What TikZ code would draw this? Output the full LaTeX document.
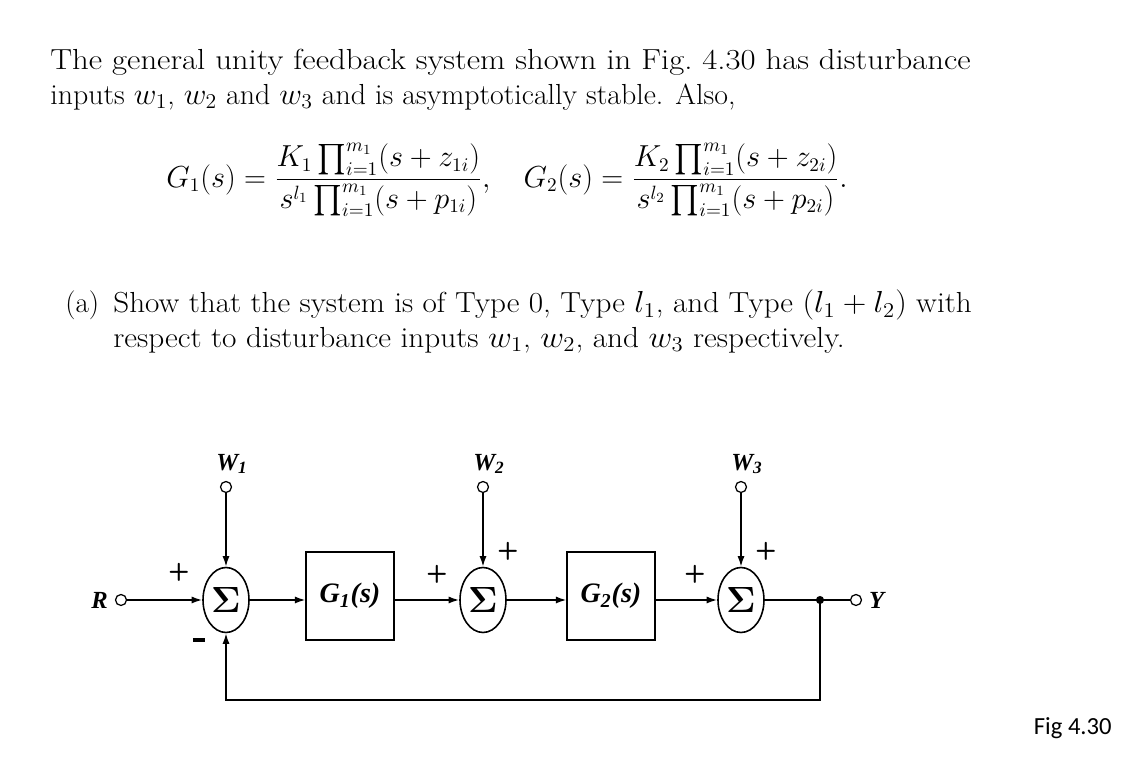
\documentclass[tikz,border=0pt]{standalone}
\usepackage{amsmath}
\usepackage{fontspec}
\newfontfamily\lser{Liberation Serif}
\newfontfamily\carl{Carlito}
\usetikzlibrary{shapes.geometric,arrows.meta}
\begin{document}
\begin{tikzpicture}[x=0.02cm,y=-0.02cm,
  sum/.style={ellipse,draw,line width=0.9pt,minimum width=0.92cm,minimum height=1.3cm,inner sep=0pt,font=\lser\bfseries\fontsize{20}{20}\selectfont},
  blk/.style={draw,line width=0.9pt,minimum width=1.75cm,minimum height=1.75cm,font=\lser\bfseries\itshape\fontsize{16}{16}\selectfont},
  term/.style={circle,draw,line width=0.7pt,minimum size=0.22cm,inner sep=0pt},
  lab/.style={font=\lser\bfseries\itshape\fontsize{14}{14}\selectfont},
  sg/.style={font=\sffamily\bfseries\fontsize{14}{14}\selectfont},
  ar/.style={line width=0.9pt,-{Latex[length=6pt,width=4pt]}},
  ln/.style={line width=0.9pt},
  txt/.style={anchor=west,inner sep=0pt,font=\fontsize{16.5}{20}\selectfont}]
\useasboundingbox (0,0) rectangle (1144,776);
% text
\node[txt] (t1) at (50,62) {\scalebox{1.13}[1]{The general unity feedback system shown in Fig.~4.30 has disturbance}};
\node[txt] (t2) at (50,97) {\scalebox{1.03}[1]{inputs $w_1$, $w_2$ and $w_3$ and is asymptotically stable. Also,}};
\node[inner sep=0pt,font=\fontsize{16}{20}\selectfont] (eq) at (507,180) {$G_1(s)=\dfrac{K_1\prod_{i=1}^{m_1}(s+z_{1i})}{s^{l_1}\prod_{i=1}^{m_1}(s+p_{1i})},\quad G_2(s)=\dfrac{K_2\prod_{i=1}^{m_1}(s+z_{2i})}{s^{l_2}\prod_{i=1}^{m_1}(s+p_{2i})}.$};
\node[txt] (a1) at (65,305) {(a)};
\node[txt] (a2) at (113,305) {\scalebox{1.075}[1]{Show that the system is of Type 0, Type $l_1$, and Type $(l_1+l_2)$ with}};
\node[txt] (a3) at (113,340) {\scalebox{1.08}[1]{respect to disturbance inputs $w_1$, $w_2$, and $w_3$ respectively.}};
\node[anchor=east,inner sep=0pt,font=\carl\fontsize{14}{14}\selectfont] (fig) at (1112,728) {Fig 4.30};
% diagram
\node[sum] (s1) at (226,600) {$\boldsymbol\Sigma$};
\node[blk] (g1) at (350,596) {G$_{\text{1}}$(s)};
\node[sum] (s2) at (483,600) {$\boldsymbol\Sigma$};
\node[blk] (g2) at (611,596) {G$_{\text{2}}$(s)};
\node[sum] (s3) at (741,600) {$\boldsymbol\Sigma$};
\node[term] (r) at (121,600) {};
\node[lab,anchor=east] (rl) at (114,600) {R};
\node[term] (y) at (856,600) {};
\node[lab,anchor=west] (yl) at (863,600) {Y};
\coordinate (br) at (820,600);
\fill (br) circle (2.3pt);
\node[term] (w1) at (226,487) {};
\node[term] (w2) at (483,487) {};
\node[term] (w3) at (741,487) {};
\node[lab] (w1l) at (232,464) {W$_{\text{1}}$};
\node[lab] (w2l) at (489,464) {W$_{\text{2}}$};
\node[lab] (w3l) at (747,464) {W$_{\text{3}}$};
\draw[ar] (r) -- (s1);
\draw[ar] (s1) -- (g1.west|-s1);
\draw[ar] (g1.east|-s2) -- (s2);
\draw[ar] (s2) -- (g2.west|-s2);
\draw[ar] (g2.east|-s3) -- (s3);
\draw[ln] (s3) -- (y);
\draw[ar] (w1) -- (s1);
\draw[ar] (w2) -- (s2);
\draw[ar] (w3) -- (s3);
\draw[ar] (br) -- (820,700) -| (s1.south);
\node[sg] (p1) at (179,572) {+};
\node[sg] (m1) at (199,640) {\rule{7pt}{2pt}};
\node[sg] (p2) at (437,574) {+};
\node[sg] (p2b) at (508,551) {+};
\node[sg] (p3) at (695,574) {+};
\node[sg] (p3b) at (766,551) {+};
\end{tikzpicture}
\end{document}
